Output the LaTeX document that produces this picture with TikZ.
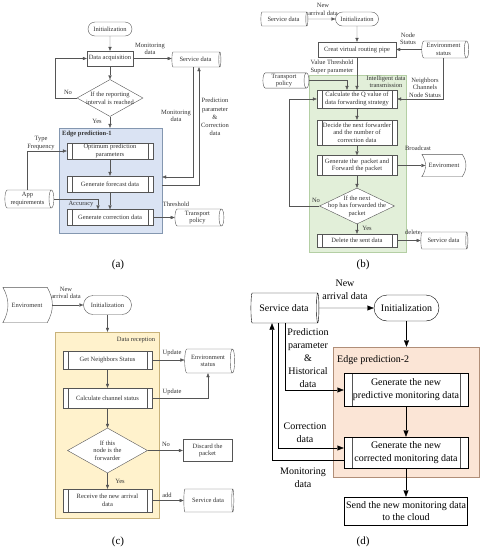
\documentclass[tikz,border=0pt]{standalone}
\usepackage{fontspec}
\setmainfont{Liberation Serif}
\usetikzlibrary{shapes.geometric,shapes.misc,arrows.meta,calc}
\definecolor{lc}{HTML}{555555}
\definecolor{tc}{HTML}{333333}
\definecolor{bluef}{HTML}{DAE3F3}
\definecolor{blueb}{HTML}{8497B0}
\definecolor{greenf}{HTML}{E2EFD9}
\definecolor{greenb}{HTML}{B4CFA4}
\definecolor{yelf}{HTML}{FFF2CC}
\definecolor{yelb}{HTML}{C8B27A}
\definecolor{peachf}{HTML}{FBE5D6}
\definecolor{peachb}{HTML}{B08E78}
\tikzset{
  sm/.style={font=\fontsize{6.5}{7.5}\selectfont, text=tc},
  bg/.style={font=\fontsize{10}{12.8}\selectfont, text=black},
  box/.style={draw=lc, fill=white, rectangle, align=center, inner sep=1pt},
  term/.style={draw=lc, fill=white, rounded rectangle, align=center, inner sep=1pt},
  % cylinder: first arg horizontal size, second arg vertical size
  cyl/.style 2 args={draw=lc, fill=white, cylinder, aspect=0.32, align=center, inner sep=1pt,
      minimum height=#1, minimum width=#2},
  pp/.style={box, path picture={
      \draw[lc] ([xshift=#1]path picture bounding box.north west) -- ([xshift=#1]path picture bounding box.south west);
      \draw[lc] ([xshift=-#1]path picture bounding box.north east) -- ([xshift=-#1]path picture bounding box.south east);}},
  pp/.default=5pt,
  dia/.style={draw=lc, fill=white, diamond, inner sep=0pt},
  arr/.style={draw=lc, -{Triangle[length=4pt,width=3.2pt]}},
  arrd/.style={draw=black, -{Triangle[length=6.5pt,width=5pt]}},
  lbl/.style={sm, align=center, inner sep=0pt},
  lbld/.style={bg, align=center, inner sep=0pt},
  capt/.style={font=\fontsize{11}{13}\selectfont, inner sep=0pt},
}
\begin{document}
\begin{tikzpicture}[x=1pt,y=-1pt]
\useasboundingbox (0,0) rectangle (483,550);
% ================= Panel (a)
\node[draw=blueb, fill=bluef, rectangle, minimum width=103pt, minimum height=105pt] (a_box) at (110.5,180.5) {};
\node[lbl, anchor=west, font=\fontsize{6.5}{7.5}\selectfont\bfseries] (a_boxt) at (62,134) {Edge prediction-1};
\node[term,sm,minimum width=46pt,minimum height=14pt] (a_init) at (110,29) {Initialization};
\node[box,sm,minimum width=46pt,minimum height=15pt] (a_acq) at (110,58.5) {Data acquisition};
\node[cyl={49pt}{15pt},sm] (a_serv) at (195.5,59.5) {Service data};
\node[dia,minimum width=66pt,minimum height=37pt] (a_dec) at (110,98) {};
\node[lbl] (a_dect) at (a_dec) {If the reporting\\interval is reached};
\node[pp,sm,minimum width=86pt,minimum height=16pt] (a_opt) at (110,151) {Optimum prediction\\parameters};
\node[pp,sm,minimum width=86pt,minimum height=16pt] (a_fore) at (110,184) {Generate forecast data};
\node[pp,sm,minimum width=86pt,minimum height=16pt] (a_corr) at (110,217.5) {Generate correction data};
\node[cyl={49pt}{18pt},sm] (a_app) at (27.5,199) {App\\requirements};
\node[cyl={49pt}{17pt},sm] (a_tp) at (197.5,217.5) {Transport\\policy};
\draw[arr] (a_init) -- (a_acq);
\draw[arr] (a_acq) -- (a_acq -| a_serv.west);
\node[lbl] (a_l1) at (150,49) {Monitoring\\data};
\draw[arr] (a_acq) -- (a_dec);
\draw[arr] (a_dec.west) -- ++(-22,0) |- (a_acq.west);
\node[lbl] (a_no) at (68,92) {No};
\draw[arr] (a_dec.south) -- (a_dec.south |- a_box.north);
\node[lbl] (a_yes) at (97,121) {Yes};
\draw[arr] ([xshift=-2.5pt]a_serv.south) |- ([yshift=3.5pt]a_box.east);
\draw[arr] ([yshift=-4.5pt]a_box.east) -| ([xshift=3.5pt]a_serv.south);
\node[lbl] (a_l2) at (176,116) {Monitoring\\data};
\node[lbl, font=\fontsize{6.5}{8.2}\selectfont] (a_l3) at (215,117) {Prediction\\parameter\\\&\\Correction\\data};
\draw[arr] (a_app.north) |- (a_opt.west);
\node[lbl] (a_l4) at (41,143) {Type\\Frequency};
\draw[arr] (a_app.east) -| ([xshift=-12pt]a_corr.north);
\node[lbl] (a_l5) at (81,204) {Accuracy};
\draw[arr] (a_opt) -- (a_fore);
\draw[arr] (a_fore) -- (a_corr);
\draw[arr] (a_corr) -- (a_tp);
\node[lbl] (a_l6) at (176,204) {Threshold};
\node[capt] (a_cap) at (118,265) {(a)};
% ================= Panel (b)
\node[draw=greenb, fill=greenf, rectangle, minimum width=97pt, minimum height=177pt] (b_box) at (357.5,163.5) {};
\node[lbl] (b_boxt) at (386,82) {Intelligent data\\transmission};
\node[cyl={47pt}{14pt},sm] (b_serv) at (283.5,19) {Service data};
\node[term,sm,minimum width=45pt,minimum height=14pt] (b_init) at (357,19) {Initialization};
\draw[arr] (b_serv) -- (b_init);
\node[lbl] (b_l1) at (323,9.5) {New\\arrival data};
\node[box,sm,minimum width=78pt,minimum height=15pt] (b_pipe) at (357,49.5) {Creat virtual routing pipe};
\draw[arr] (b_init) -- (b_pipe);
\node[cyl={47pt}{17pt},sm] (b_env) at (443.5,49.5) {Environment\\status};
\draw[arr] (b_env) -- (b_pipe);
\node[lbl] (b_l2) at (408,39) {Node\\Status};
\node[cyl={46pt}{15pt},sm] (b_tp) at (284,80.5) {Transport\\policy};
\node[pp,sm,minimum width=80pt,minimum height=18pt] (b_q) at (357,99) {Calculate the Q value of\\data forwarding strategy};
\draw[arr] (b_pipe) -- (b_q);
\node[lbl] (b_l3) at (332,67) {Value Threshold\\Super parameter};
\draw[arr] (b_tp.east) -| ([xshift=-10pt]b_q.north);
\draw[arr] (b_env.south) |- (b_q.east);
\node[lbl] (b_l4) at (425,87.5) {Neighbors\\Channels\\Node Status};
\node[pp,sm,minimum width=80pt,minimum height=25pt] (b_dec1) at (357,132.5) {Decide the next forwarder\\and the number of\\correction data};
\draw[arr] (b_q) -- (b_dec1);
\node[pp,sm,minimum width=80pt,minimum height=20pt] (b_gen) at (357,165.5) {Generate the\ \ packet and\\Forward the packet};
\draw[arr] (b_dec1) -- (b_gen);
\node[rectangle, minimum width=40pt, minimum height=22pt, inner sep=0pt] (b_envr) at (442,165.5) {};
\draw[lc] (b_envr.north west) -- (b_envr.north east) to[bend left=35] (b_envr.south east) -- (b_envr.south west) to[bend right=35] (b_envr.north west);
\node[lbl] (b_envrt) at ([xshift=2pt]b_envr.center) {Enviroment};
\draw[arr] (b_gen.east) -- ([xshift=3.5pt]b_envr.west);
\node[lbl] (b_l5) at (418,148) {Broadcast};
\node[dia,minimum width=75pt,minimum height=36pt] (b_dec) at (357,206) {};
\node[lbl] (b_dect) at (b_dec) {If the next\\hop has forwarded the\\packet};
\draw[arr] (b_gen) -- (b_dec);
\draw[arr] (b_dec.west) -- ++(-30.5,0) |- (b_q.west);
\node[lbl] (b_no) at (316,200) {No};
\node[pp,sm,minimum width=80pt,minimum height=13pt] (b_del) at (357,240.5) {Delete the sent data};
\draw[arr] (b_dec) -- (b_del);
\node[lbl] (b_yes) at (367,228) {Yes};
\node[cyl={47pt}{17pt},sm] (b_serv2) at (443.5,240.5) {Service data};
\draw[arr] (b_del) -- (b_serv2);
\node[lbl] (b_l6) at (413,232) {delete};
\node[capt] (b_cap) at (363,265) {(b)};
% ================= Panel (c)
\node[draw=yelb, fill=yelf, rectangle, minimum width=104pt, minimum height=186pt] (c_box) at (107,425) {};
\node[lbl] (c_boxt) at (136,340) {Data reception};
\node[rectangle, minimum width=44pt, minimum height=35pt, inner sep=0pt] (c_env) at (25,305) {};
\draw[lc] (c_env.north west) -- (c_env.north east) to[bend left=30] (c_env.south east) -- (c_env.south west) to[bend right=30] (c_env.north west);
\node[lbl] (c_envt) at ([xshift=2pt]c_env.center) {Enviroment};
\node[term,sm,minimum width=50pt,minimum height=19pt] (c_init) at (107.5,305) {Initialization};
\draw[arr] ([xshift=4.7pt]c_env.east) -- (c_init.west);
\node[lbl] (c_l1) at (66,293) {New\\arrival data};
\draw[arr] (c_init.south) -- (c_init.south |- c_box.north);
\node[pp,sm,minimum width=89pt,minimum height=18pt] (c_gns) at (107.5,360) {Get Neighbors Status};
\node[cyl={50pt}{24pt},sm] (c_envs) at (208,361) {Environment\\status};
\draw[arr] (c_gns.east) -- (c_gns.east -| c_envs.west);
\node[lbl] (c_l2) at (172,353) {Update};
\node[pp,sm,minimum width=89pt,minimum height=20pt] (c_ccs) at (107.5,398) {Calculate channel status};
\draw[arr] (c_gns) -- (c_ccs);
\draw[arr] (c_ccs.east) -| (c_envs.south);
\node[lbl] (c_l3) at (172,392) {Update};
\node[dia,minimum width=80pt,minimum height=45pt] (c_dec) at (107.5,450.5) {};
\node[lbl] (c_dect) at (c_dec) {If this\\node is the\\forwarder};
\draw[arr] (c_ccs) -- (c_dec);
\node[box,sm,minimum width=49pt,minimum height=22pt] (c_disc) at (207.5,450.5) {Discard the\\packet};
\draw[arr] (c_dec) -- (c_disc);
\node[lbl] (c_no) at (166,444) {No};
\node[pp,sm,minimum width=89pt,minimum height=23pt] (c_recv) at (107.5,500.5) {Receive the new arrival\\data};
\draw[arr] (c_dec) -- (c_recv);
\node[lbl] (c_yes) at (120,481) {Yes};
\node[cyl={50pt}{23pt},sm] (c_serv) at (208,500.5) {Service data};
\draw[arr] (c_recv) -- (c_serv);
\node[lbl] (c_l4) at (167,495) {add};
\node[capt] (c_cap) at (118,542) {(c)};
% ================= Panel (d)
\node[draw=peachb, fill=peachf, rectangle, minimum width=146pt, minimum height=130pt] (d_box) at (406,412) {};
\node[lbld, anchor=west] (d_boxt) at (337,360) {Edge prediction-2};
\node[cyl={68pt}{30pt},bg,draw=black,aspect=0.27] (d_serv) at (284,308) {Service data};
\node[term,bg,draw=black,minimum width=67pt,minimum height=26pt] (d_init) at (406.5,308) {Initialization};
\draw[arrd] (d_serv) -- (d_init);
\node[lbld] (d_l1) at (345,290) {New\\arrival data};
\draw[arrd] (d_init.south) -- (d_init.south |- d_box.north);
\node[pp=8pt,bg,draw=black,minimum width=124pt,minimum height=33pt] (d_pred) at (406,390) {Generate the new\\predictive monitoring data};
\node[pp=8pt,bg,draw=black,minimum width=124pt,minimum height=31pt] (d_corr) at (406,452.5) {Generate the new\\corrected monitoring data};
\node[box,bg,draw=black,minimum width=123pt,minimum height=28pt] (d_send) at (406,511) {Send the new monitoring data\\to the cloud};
\draw[arrd] (d_pred) -- (d_corr);
\draw[arrd] (d_corr) -- (d_send);
\draw[arrd] ([xshift=1pt]d_serv.south) |- (d_pred.west);
\draw[arrd] ([xshift=-6pt]d_serv.south) |- ([yshift=4.5pt]d_corr.west);
\draw[arrd] ([yshift=-7.5pt]d_corr.west) -| ([xshift=-12pt]d_serv.south);
\node[lbld] (d_l2) at (308,358) {Prediction\\parameter\\\&\\Historical\\data};
\node[lbld] (d_l3) at (305,433) {Correction\\data};
\node[lbld] (d_l4) at (303,478) {Monitoring\\data};
\node[capt] (d_cap) at (363,542) {(d)};
\end{tikzpicture}
\end{document}
